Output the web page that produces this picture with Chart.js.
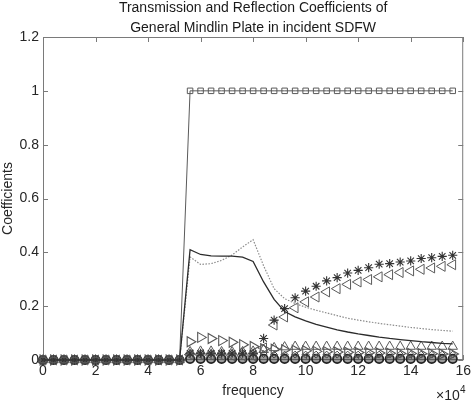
<!DOCTYPE html>
<html>
<head>
<meta charset="utf-8">
<script src="https://cdn.jsdelivr.net/npm/chart.js@4.4.1/dist/chart.umd.min.js"></script>
<style>
html,body{margin:0;padding:0;background:#fff;}
#wrap{width:474px;height:402px;}
</style>
</head>
<body>
<div id="wrap"><canvas id="c" width="474" height="402"></canvas></div>
<script>
// frequency samples (Hz)
const freq = [0,4000,8000,12000,16000,20000,24000,28000,32000,36000,40000,44000,48000,52000,
  56000,60000,64000,68000,72000,76000,80000,84000,88000,92000,96000,100000,104000,108000,
  112000,116000,120000,124000,128000,132000,136000,140000,144000,148000,152000,156000];
const Z = [0,0,0,0,0,0,0,0,0,0,0,0,0,0];
const squares = Z.concat([1,1,1,1,1,1,1,1,1,1,1,1,1,1,1,1,1,1,1,1,1,1,1,1,1,1]);
const solidLine = Z.concat([0.41,0.392,0.387,0.386,0.386,0.382,0.366,0.29,0.225,0.18,0.16,0.145,0.132,
  0.122,0.112,0.104,0.097,0.091,0.085,0.08,0.076,0.072,0.068,0.065,0.062,0.06]);
const dottedLine = Z.concat([0.383,0.355,0.358,0.37,0.39,0.42,0.447,0.35,0.265,0.228,0.21,0.196,0.185,
  0.175,0.165,0.155,0.148,0.142,0.136,0.131,0.126,0.121,0.117,0.113,0.11,0.107]);
const asterisks = Z.concat([0.025,0.025,0.025,0.025,0.025,0.025,0.025,0.08,0.148,0.191,0.231,0.256,0.274,
  0.294,0.306,0.323,0.333,0.343,0.356,0.358,0.364,0.368,0.377,0.38,0.385,0.389]);
const leftTri = Z.concat([0.02,0.02,0.018,0.018,0.016,0.016,0.015,0.045,0.13,0.16,0.194,0.216,0.234,
  0.253,0.265,0.281,0.29,0.299,0.309,0.317,0.325,0.331,0.337,0.342,0.348,0.354]);
const rightTri = Z.concat([0.068,0.084,0.08,0.072,0.066,0.057,0.05,0.042,0.04,0.038,0.036,0.034,0.032,
  0.031,0.03,0.029,0.028,0.027,0.026,0.025,0.024,0.024,0.023,0.023,0.022,0.022]);
const upTri = Z.concat([0.03,0.032,0.032,0.03,0.03,0.03,0.032,0.038,0.045,0.048,0.05,0.05,0.05,
  0.05,0.05,0.05,0.05,0.05,0.05,0.05,0.05,0.05,0.05,0.05,0.05,0.05]);
const diamonds = Z.concat([0.025,0.025,0.025,0.025,0.025,0.025,0.025,0.022,0.02,0.02,0.02,0.02,0.02,
  0.02,0.02,0.02,0.02,0.02,0.02,0.02,0.02,0.02,0.02,0.02,0.02,0.02]);
const circles = Z.concat([0.004,0.004,0.004,0.004,0.004,0.004,0.004,0.004,0.004,0.004,0.004,0.004,0.004,
  0.004,0.004,0.004,0.004,0.004,0.004,0.004,0.004,0.004,0.004,0.004,0.004,0.004]);
const titleLines = ['Transmission and Reflection Coefficients of','General Mindlin Plate in incident SDFW'];
const xLabel = 'frequency';
const yLabel = 'Coefficients';
const yTicks = [0,0.2,0.4,0.6,0.8,1,1.2];

const FONT = '"Liberation Sans", Arial, Helvetica, sans-serif';
const TXT = '#262626';
const pts = vals => freq.map((f,i)=>({x:f,y:vals[i]}));

function markers(vals, style, radius, color, width, rotation, fill){
  return {data: pts(vals), showLine:false, pointStyle: style, pointRadius: radius,
    pointBorderColor: color, pointBackgroundColor: fill || 'rgba(0,0,0,0)', pointBorderWidth: width,
    pointRotation: rotation||0, borderColor: color, clip: false, pointHoverRadius: radius};
}

const boxPlugin = {
  id:'box',
  beforeDatasetsDraw(chart){
    const {ctx, chartArea:a, scales} = chart;
    ctx.save();
    ctx.strokeStyle = '#7a7a7a'; ctx.lineWidth = 1;
    ctx.strokeRect(a.left+0.5, a.top+0.5, a.right-a.left-1, a.bottom-a.top-1);
    ctx.beginPath();
    scales.x.ticks.forEach(t=>{
      const px = Math.round(scales.x.getPixelForValue(t.value))+0.5;
      ctx.moveTo(px, a.bottom); ctx.lineTo(px, a.bottom-5);
      ctx.moveTo(px, a.top); ctx.lineTo(px, a.top+5);
    });
    scales.y.ticks.forEach(t=>{
      const py = Math.round(scales.y.getPixelForValue(t.value))+0.5;
      ctx.moveTo(a.left, py); ctx.lineTo(a.left+5, py);
      ctx.moveTo(a.right, py); ctx.lineTo(a.right-5, py);
    });
    ctx.stroke();
    ctx.restore();
  },
  afterDraw(chart){
    const {ctx, chartArea:a} = chart;
    ctx.save();
    ctx.fillStyle = '#1a1a1a';
    ctx.textAlign = 'center'; ctx.textBaseline = 'alphabetic';
    ctx.font = '14px ' + FONT;
    const cx = (a.left + a.right)/2;
    ctx.fillText(titleLines[0], cx, 12);
    ctx.fillText(titleLines[1], cx, 32);
    ctx.fillStyle = TXT;
    ctx.textAlign = 'left';
    ctx.font = '14px ' + FONT;
    ctx.fillText('\u00d710', 436, 400);
    ctx.font = '10px ' + FONT;
    ctx.fillText('4', 460, 393);
    ctx.restore();
  }
};

new Chart(document.getElementById('c'), {
  type: 'line',
  data: { datasets: [
    {data: pts(solidLine), borderColor:'#2b2b2b', borderWidth:1.3, pointRadius:0, tension:0, clip:false},
    {data: pts(dottedLine), borderColor:'#8c8c8c', borderWidth:1.2, borderDash:[1.5,1.5], pointRadius:0, tension:0, clip:false},
    Object.assign(markers(squares,'rect',3.9,'#5a5a5a',1), {showLine:true, borderColor:'#5a5a5a', borderWidth:1}),
    markers(asterisks,'star',4.6,'#333',1.1),
    markers(leftTri,'triangle',5.8,'#5a5a5a',1,-90),
    markers(rightTri,'triangle',5.8,'#555',1.1,90),
    markers(upTri,'triangle',5.5,'#5a5a5a',1,0),
    markers(diamonds,'rectRot',3.5,'#444',1),
    markers(circles,'circle',4.2,'#222',1.8,0,'rgba(70,70,70,0.55)'),
  ]},
  options: {
    responsive:false, animation:false, devicePixelRatio:1,
    layout:{padding:{top:37,right:8,left:0,bottom:0}},
    plugins:{legend:{display:false}, tooltip:{enabled:false}, title:{display:false}},
    scales:{
      x:{type:'linear', min:0, max:160000,
        ticks:{stepSize:20000, autoSkip:false, maxRotation:0, padding:3, color:TXT,
          font:{family:FONT,size:14}, callback:v=>String(v/10000)},
        grid:{display:false, drawTicks:false}, border:{display:false},
        title:{display:true, text:xLabel, color:TXT, font:{family:FONT,size:14}, padding:{top:0,bottom:2}},
        afterFit:s=>{s.height=42;}
      },
      y:{type:'linear', min:0, max:1.2,
        afterBuildTicks:s=>{s.ticks = yTicks.map(v=>({value:v}));},
        ticks:{padding:4, color:TXT, font:{family:FONT,size:14}, callback:v=>String(+v.toFixed(1))},
        grid:{display:false, drawTicks:false}, border:{display:false},
        title:{display:true, text:yLabel, color:TXT, font:{family:FONT,size:14}, padding:{top:0,bottom:0}},
        afterFit:s=>{s.width=43;}
      }
    }
  },
  plugins:[boxPlugin]
});
</script>
</body>
</html>
